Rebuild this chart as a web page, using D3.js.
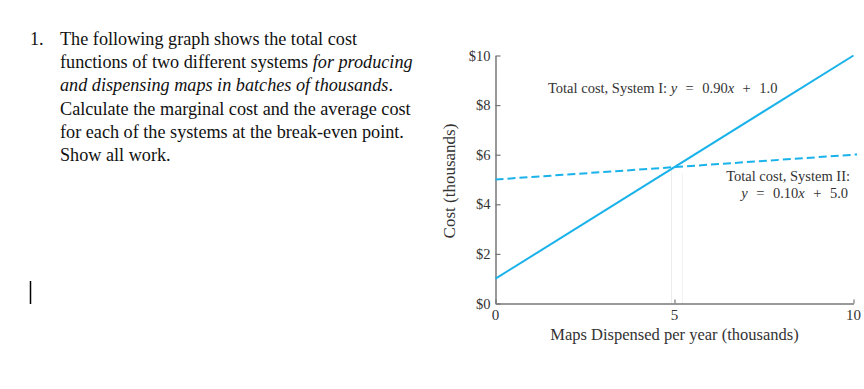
<!DOCTYPE html>
<html>
<head>
<meta charset="utf-8">
<script src="https://cdn.jsdelivr.net/npm/d3@7/dist/d3.min.js"></script>
<style>
  html, body { margin: 0; padding: 0; background: #fff; }
  svg { display: block; }
</style>
</head>
<body>
<svg id="chart" width="864" height="389"></svg>
<script>
// ---- data ----
const xDomain = [0, 10];
const yDomain = [0, 10];
const xTickValues = [0, 5, 10];
const xTickLabels = ["0", "5", "10"];
const yTickValues = [0, 2, 4, 6, 8, 10];
const yTickLabels = ["$0", "$2", "$4", "$6", "$8", "$10"];
const system1X = [0, 10];
const system1Y = [1.0, 10.0];
const system2X = [0, 10.1];
const system2Y = [5.0, 6.01];
const breakEven = [5, 5.5];
const questionLines = [
  [{t: "The following graph shows the total cost", i: false}],
  [{t: "functions of two different systems ", i: false}, {t: "for producing", i: true}],
  [{t: "and dispensing maps in batches of thousands", i: true}, {t: ".", i: false}],
  [{t: "Calculate the marginal cost and the average cost", i: false}],
  [{t: "for each of the systems at the break-even point.", i: false}],
  [{t: "Show all work.", i: false}]
];

const svg = d3.select("#chart");
const serif = "'Liberation Serif', 'Times New Roman', serif";

// question text
const q = svg.append("g").attr("font-family", serif).attr("font-size", 18.2).attr("fill", "#111");
q.append("text").attr("x", 30).attr("y", 45).text("1.");
questionLines.forEach((line, k) => {
  const t = q.append("text").attr("x", 60).attr("y", 45 + k * 23.2);
  line.forEach(seg => t.append("tspan").attr("font-style", seg.i ? "italic" : "normal").text(seg.t));
});
// cursor bar
svg.append("line").attr("x1", 30.5).attr("x2", 30.5).attr("y1", 281).attr("y2", 304)
  .attr("stroke", "#000").attr("stroke-width", 1.5);

// scales
const x = d3.scaleLinear().domain(xDomain).range([495.5, 853.5]);
const y = d3.scaleLinear().domain(yDomain).range([303.5, 55.5]);

const axisColor = "#777";

// faint break-even guide
svg.append("line")
  .attr("x1", x(breakEven[0]) - 3).attr("x2", x(breakEven[0]) - 3)
  .attr("y1", y(breakEven[1])).attr("y2", y(0))
  .attr("stroke", "#ececec").attr("stroke-width", 1);
svg.append("line")
  .attr("x1", x(breakEven[0]) + 8).attr("x2", x(breakEven[0]) + 8)
  .attr("y1", y(breakEven[1]) + 6).attr("y2", y(0))
  .attr("stroke", "#f2f2f2").attr("stroke-width", 1);

// axes
const yAxis = d3.axisRight(y).tickValues(yTickValues).tickFormat(() => "").tickSize(5).tickSizeOuter(0);
const gy = svg.append("g").attr("transform", `translate(${x(0)},0)`).call(yAxis);
gy.select(".domain").attr("stroke", axisColor).attr("stroke-width", 1.5);
gy.selectAll(".tick line").attr("stroke", axisColor).attr("stroke-width", 1.2);

const xAxis = d3.axisTop(x).tickValues(xTickValues).tickFormat(() => "").tickSize(4).tickSizeOuter(0);
const gx = svg.append("g").attr("transform", `translate(0,${y(0)})`).call(xAxis);
gx.select(".domain").attr("stroke", axisColor).attr("stroke-width", 1.5);
gx.selectAll(".tick line").attr("stroke", axisColor).attr("stroke-width", 1.2);

// tick labels
svg.append("g").selectAll("text").data(yTickValues).join("text")
  .attr("x", x(0) - 5).attr("y", d => y(d) + 5)
  .attr("text-anchor", "end").attr("font-family", serif).attr("font-size", 14.5).attr("fill", "#333")
  .text((d, i) => yTickLabels[i]);
svg.append("g").selectAll("text").data(xTickValues).join("text")
  .attr("x", d => x(d)).attr("y", y(0) + 16)
  .attr("text-anchor", "middle").attr("font-family", serif).attr("font-size", 15).attr("fill", "#333")
  .text((d, i) => xTickLabels[i]);

// axis titles
svg.append("text").attr("x", x(5)).attr("y", 340).attr("text-anchor", "middle")
  .attr("font-family", serif).attr("font-size", 16.5).attr("fill", "#333")
  .text("Maps Dispensed per year (thousands)");
svg.append("text").attr("transform", `translate(455,181) rotate(-90)`).attr("text-anchor", "middle")
  .attr("font-family", serif).attr("font-size", 17).attr("fill", "#333")
  .text("Cost (thousands)");

// lines
const lineColor = "#1ab2ea";
const lineGen = d3.line().x(d => x(d[0])).y(d => y(d[1]));
svg.append("path").datum(system2X.map((v, i) => [v, system2Y[i]]))
  .attr("d", lineGen).attr("fill", "none").attr("stroke", lineColor)
  .attr("stroke-width", 2).attr("stroke-dasharray", "8,4");
svg.append("path").datum(system1X.map((v, i) => [v, system1Y[i]]))
  .attr("d", lineGen).attr("fill", "none").attr("stroke", lineColor)
  .attr("stroke-width", 2);

// annotations (math-style spacing)
function eq(t, parts) {
  parts.forEach(p => {
    const s = t.append("tspan").text(p.t);
    if (p.i) s.attr("font-style", "italic");
    if (p.dx) s.attr("dx", p.dx);
  });
}
const ann = svg.append("g").attr("font-family", serif).attr("font-size", 14.5).attr("fill", "#333");
const a1 = ann.append("text").attr("x", 548).attr("y", 93);
eq(a1, [
  {t: "Total cost, System I: "}, {t: "y", i: true}, {t: "=", dx: 8.5}, {t: "0.90", dx: 8.5},
  {t: "x", i: true}, {t: "+", dx: 8.5}, {t: "1.0", dx: 8.5}
]);
ann.append("text").attr("x", 850).attr("y", 181).attr("text-anchor", "end").text("Total cost, System II:");
const a2 = ann.append("text").attr("x", 848).attr("y", 198).attr("text-anchor", "end");
eq(a2, [
  {t: "y", i: true}, {t: "=", dx: 8.5}, {t: "0.10", dx: 8.5},
  {t: "x", i: true}, {t: "+", dx: 8.5}, {t: "5.0", dx: 8.5}
]);
</script>
</body>
</html>
